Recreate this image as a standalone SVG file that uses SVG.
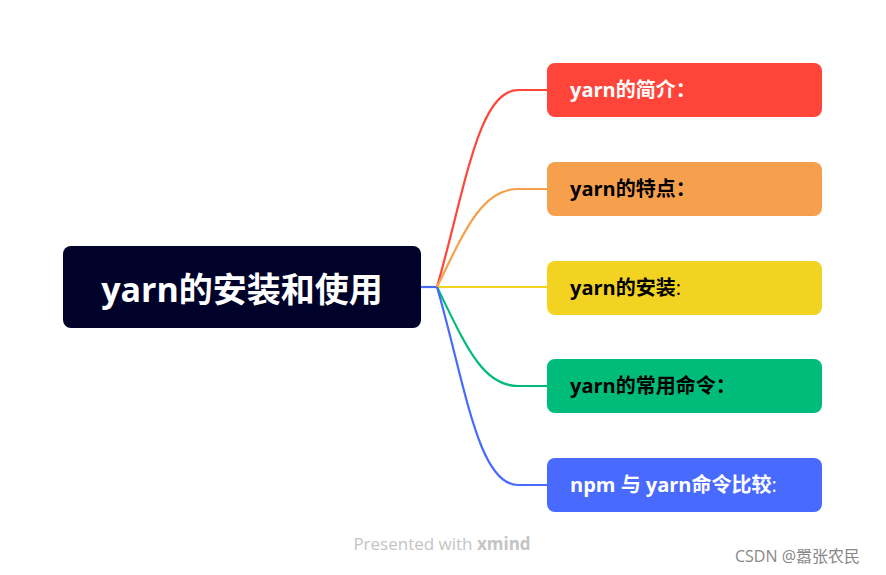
<svg xmlns="http://www.w3.org/2000/svg" width="886" height="575" viewBox="0 0 886 575">
<style>
.c{fill:none;stroke-width:2.2}
.t{font-family:"Open Sans","Noto Sans CJK SC",sans-serif;font-weight:bold;font-size:20px}
</style>
<rect width="886" height="575" fill="#fff"/>
<g id="connectors">
<path class="c" stroke="#486AFF" d="M421 287 H437"/>
<path class="c" stroke="#FF4539" d="M437 287 C465 190 478 90 518 90 H547"/>
<path class="c" stroke="#F6A04D" d="M437 287 C465 230 482 189 518 189 H547"/>
<path class="c" stroke="#F3D321" d="M437 287 H547"/>
<path class="c" stroke="#00BC7B" d="M437 287 C465 344 482 386 518 386 H547"/>
<path class="c" stroke="#486AFF" d="M437 287 C465 384 478 485 518 485 H547"/>
</g>
<g id="root"><rect x="63" y="246" width="358" height="82" rx="8" fill="#000229"/>
<text x="242" y="302" text-anchor="middle" fill="#fff" style="font-family:'Open Sans','Noto Sans CJK SC',sans-serif;font-weight:bold;font-size:34px">yarn的安装和使用</text></g>
<g id="n1"><rect x="547" y="63" width="275" height="54" rx="8" fill="#FF4539"/><text class="t" x="570" y="97" fill="#fff">yarn的简介：</text></g>
<g id="n2"><rect x="547" y="162" width="275" height="54" rx="8" fill="#F6A04D"/><text class="t" x="570" y="196" fill="#000">yarn的特点：</text></g>
<g id="n3"><rect x="547" y="261" width="275" height="54" rx="8" fill="#F3D321"/><text class="t" x="570" y="295" fill="#000">yarn的安装<tspan font-weight="normal">:</tspan></text></g>
<g id="n4"><rect x="547" y="359" width="275" height="54" rx="8" fill="#00BC7B"/><text class="t" x="570" y="393" fill="#000">yarn的常用命令：</text></g>
<g id="n5"><rect x="547" y="458" width="275" height="54" rx="8" fill="#486AFF"/><text class="t" x="570" y="492" fill="#fff">npm 与 yarn命令比较<tspan font-weight="normal">:</tspan></text></g>
<text x="442" y="550" text-anchor="middle" fill="#c4c4c4" font-family="Open Sans,sans-serif" font-size="17">Presented with <tspan font-weight="bold">xmind</tspan></text>
<text x="735" y="562" fill="#888" font-family="Open Sans,Noto Sans CJK SC,sans-serif" font-size="16">CSDN @嚣张农民</text>
</svg>
